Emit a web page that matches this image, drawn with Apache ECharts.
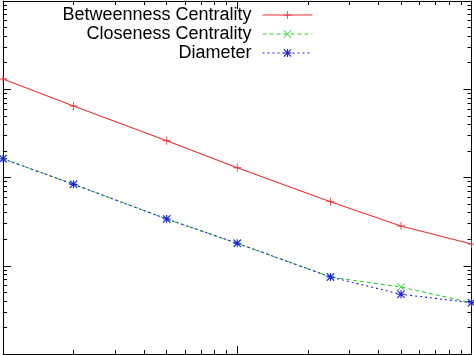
<!DOCTYPE html>
<html>
<head>
<meta charset="utf-8">
<script src="https://cdn.jsdelivr.net/npm/echarts@6/dist/echarts.min.js"></script>
<style>
  html, body { margin: 0; padding: 0; background: #fff; }
  #chart { width: 474px; height: 355px; }
</style>
</head>
<body>
<div id="chart"></div>
<script>
// ---- data ----
const xValues = [1, 2, 5, 10, 25, 50, 100];
const betweenness = [1306, 646, 261, 129, 53.2, 28.2, 17.6];
const closeness = [163, 83.7, 33.9, 17.96, 7.46, 5.74, 3.81];
const diameter = [163, 83.7, 33.9, 17.96, 7.46, 4.75, 3.81];
const seriesNames = ['Betweenness Centrality', 'Closeness Centrality', 'Diameter'];

const xMajorTicks = [1, 10, 100];
const xMinorTicks = [2, 3, 4, 5, 6, 7, 8, 9, 20, 30, 40, 50, 60, 70, 80, 90];
const yMajorTicks = [1, 10, 100, 1000, 10000];
const yMinorTicks = [2, 3, 4, 5, 6, 7, 8, 9, 20, 30, 40, 50, 60, 70, 80, 90,
  200, 300, 400, 500, 600, 700, 800, 900, 2000, 3000, 4000, 5000, 6000, 7000, 8000, 9000];

// ---- symbols ----
const plusPath = 'path://M4.5,0h1v10h-1z M0,4.5h10v1h-10z';
const crossPath = 'path://M0,0.7L0.7,0L10,9.3L9.3,10z M9.3,0L10,0.7L0.7,10L0,9.3z';
const starPath = 'path://M4.3,0h1.4v10h-1.4z M0,4.3h10v1.4h-10z M0,1L1,0L10,9L9,10z M9,0L10,1L1,10L0,9z';

function pairs(ys) { return xValues.map((x, i) => [x, ys[i]]); }

function axis(dim, position, ticks, len, showLine) {
  const isX = dim === 'x';
  return {
    type: 'log',
    logBase: 10,
    min: 1,
    max: isX ? 100 : 10000,
    position: position,
    axisLine: { show: showLine, onZero: false, lineStyle: { color: '#000', width: 1 } },
    axisTick: { show: true, inside: true, length: len, customValues: ticks,
      lineStyle: { color: '#000', width: 1 } },
    axisLabel: { show: false },
    splitLine: { show: false },
    minorTick: { show: false },
    minorSplitLine: { show: false }
  };
}

const red = '#f03030', green = '#30d030', blue = '#2020e0';
const colors = [red, green, blue];
const dashes = ['solid', [4, 3], [2, 3]];

const chart = echarts.init(document.getElementById('chart'), null, { renderer: 'canvas' });
chart.setOption({
  animation: false,
  backgroundColor: '#fff',
  grid: { left: 3, right: 2.5, top: 1, bottom: 1, containLabel: false },
  xAxis: [
    axis('x', 'bottom', xMajorTicks, 8, true),
    axis('x', 'bottom', xMinorTicks, 4, false),
    axis('x', 'top', xMajorTicks, 8, true),
    axis('x', 'top', xMinorTicks, 4, false)
  ],
  yAxis: [
    axis('y', 'left', yMajorTicks, 8, true),
    axis('y', 'left', yMinorTicks, 4, false),
    axis('y', 'right', yMajorTicks, 8, true),
    axis('y', 'right', yMinorTicks, 4, false)
  ],
  legend: {
    orient: 'vertical',
    align: 'right',
    right: 161,
    top: 6,
    padding: 0,
    itemGap: 1,
    itemWidth: 50,
    itemHeight: 10,
    textStyle: { fontFamily: 'Liberation Sans, Arial, sans-serif', fontSize: 18, lineHeight: 18,
      color: '#000', padding: [0, 6, 0, 0] },
    data: seriesNames.map((n, i) => ({
      name: n,
      lineStyle: { color: colors[i], width: 1, type: dashes[i] }
    }))
  },
  series: [
    {
      name: seriesNames[0], type: 'line', data: pairs(betweenness),
      xAxisIndex: 0, yAxisIndex: 0,
      symbol: plusPath, symbolSize: 8, color: red,
      lineStyle: { color: red, width: 1.1, type: 'solid' },
      itemStyle: { color: red }
    },
    {
      name: seriesNames[1], type: 'line', data: pairs(closeness),
      xAxisIndex: 0, yAxisIndex: 0,
      symbol: crossPath, symbolSize: 8, color: green,
      lineStyle: { color: green, width: 1.1, type: [4, 3] },
      itemStyle: { color: green }
    },
    {
      name: seriesNames[2], type: 'line', data: pairs(diameter),
      xAxisIndex: 0, yAxisIndex: 0,
      symbol: starPath, symbolSize: 8, color: blue,
      lineStyle: { color: blue, width: 1.1, type: [2, 3] },
      itemStyle: { color: blue }
    }
  ]
});
</script>
</body>
</html>
